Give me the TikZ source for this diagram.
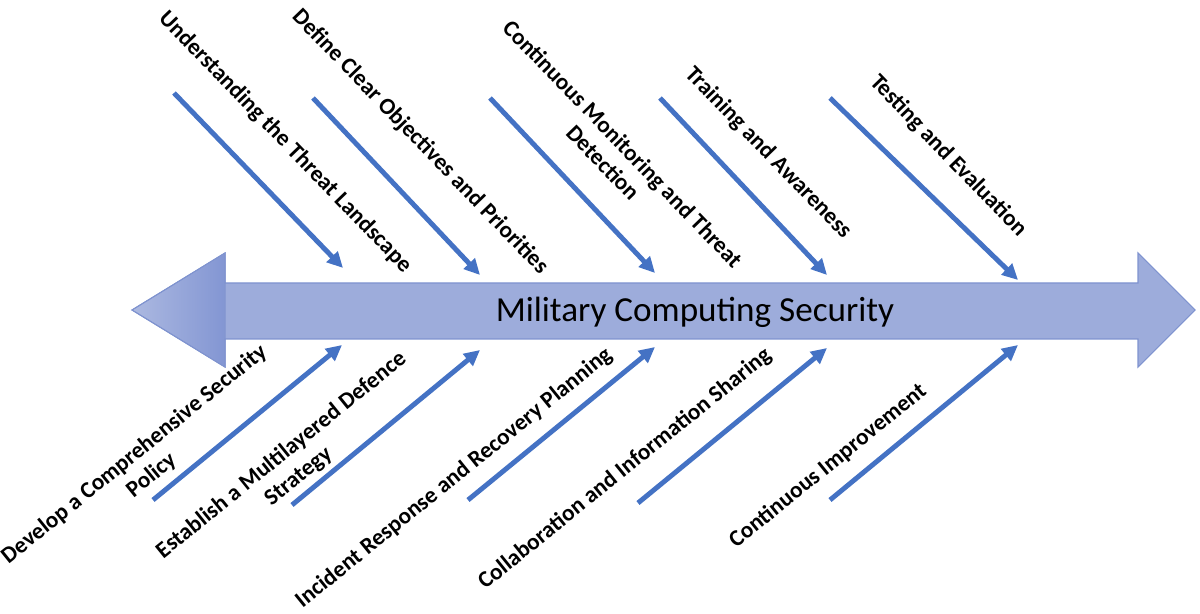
\documentclass[tikz,border=0pt]{standalone}
\usepackage{fontspec}
\setmainfont{Carlito}
\usetikzlibrary{arrows.meta}

\definecolor{spinefill}{HTML}{9DACDB}
\definecolor{spinedark}{HTML}{8396D3}
\definecolor{spineline}{HTML}{7F93CF}
\definecolor{bonecol}{HTML}{4472C4}

\begin{document}
\begin{tikzpicture}[
  x=0.02cm,
  y=-0.02cm,
  bone/.style={draw=bonecol, line width=2.8pt, -{Triangle[length=9pt,width=8.5pt]}},
  toplbl/.style={font=\bfseries\fontsize{13.2}{15.5}\selectfont, align=center, inner sep=0pt, rotate=-46},
  botlbl/.style={font=\bfseries\fontsize{13.2}{15.5}\selectfont, align=center, inner sep=0pt, rotate=39},
  title/.style={font=\fontsize{20}{24}\selectfont, inner sep=0pt}
]
  \useasboundingbox (0,0) rectangle (1200,614);

  % spine
  \filldraw[fill=spinefill, draw=spineline, line width=0.6pt]
    (132,310) -- (225,253) -- (225,283) -- (1138,283) -- (1138,253)
    -- (1195,310) -- (1138,367) -- (1138,339) -- (225,339) -- (225,367) -- cycle;
  \shade[left color=spinefill!85!white, right color=spinedark]
    (133,310) -- (224.6,254) -- (224.6,366) -- cycle;
  \draw[spineline, line width=0.6pt] (132,310) -- (225,253) -- (225,367) -- cycle;
  \node[title] (spine) at (695,312) {Military Computing Security};

  % top bones
  \coordinate (t1s) at (174,93);   \coordinate (t1e) at (343,268);
  \coordinate (t2s) at (313,98);   \coordinate (t2e) at (480,275);
  \coordinate (t3s) at (490,98);   \coordinate (t3e) at (655,273);
  \coordinate (t4s) at (660,98);   \coordinate (t4e) at (827,275);
  \coordinate (t5s) at (830,98);   \coordinate (t5e) at (1018,280);

  % bottom bones
  \coordinate (b1s) at (153,500);  \coordinate (b1e) at (342,345);
  \coordinate (b2s) at (292,505);  \coordinate (b2e) at (480,350);
  \coordinate (b3s) at (468,500);  \coordinate (b3e) at (655,347);
  \coordinate (b4s) at (638,503);  \coordinate (b4e) at (827,348);
  \coordinate (b5s) at (830,500);  \coordinate (b5e) at (1018,345);

  \foreach \i in {1,...,5} {
    \draw[bone] (t\i s) -- (t\i e);
    \draw[bone] (b\i s) -- (b\i e);
  }

  % labels
  \node[toplbl] (threat) at (285,142) {Understanding the Threat Landscape};
  \node[toplbl] (objectives) at (420,142) {Define Clear Objectives and Priorities};
  \node[toplbl] (monitoring) at (613,153) {Continuous Monitoring and Threat\\Detection};
  \node[toplbl] (training) at (768,153) {Training and Awareness};
  \node[toplbl] (testing) at (948,156) {Testing and Evaluation};

  \node[botlbl] (policy) at (143,465) {Develop a Comprehensive Security\\Policy};
  \node[botlbl] (defence) at (290,466) {Establish a Multilayered Defence\\Strategy};
  \node[botlbl] (incident) at (454,478) {Incident Response and Recovery Planning};
  \node[botlbl] (sharing) at (625,469) {Collaboration and Information Sharing};
  \node[botlbl] (improve) at (828,466) {Continuous Improvement};
\end{tikzpicture}
\end{document}
